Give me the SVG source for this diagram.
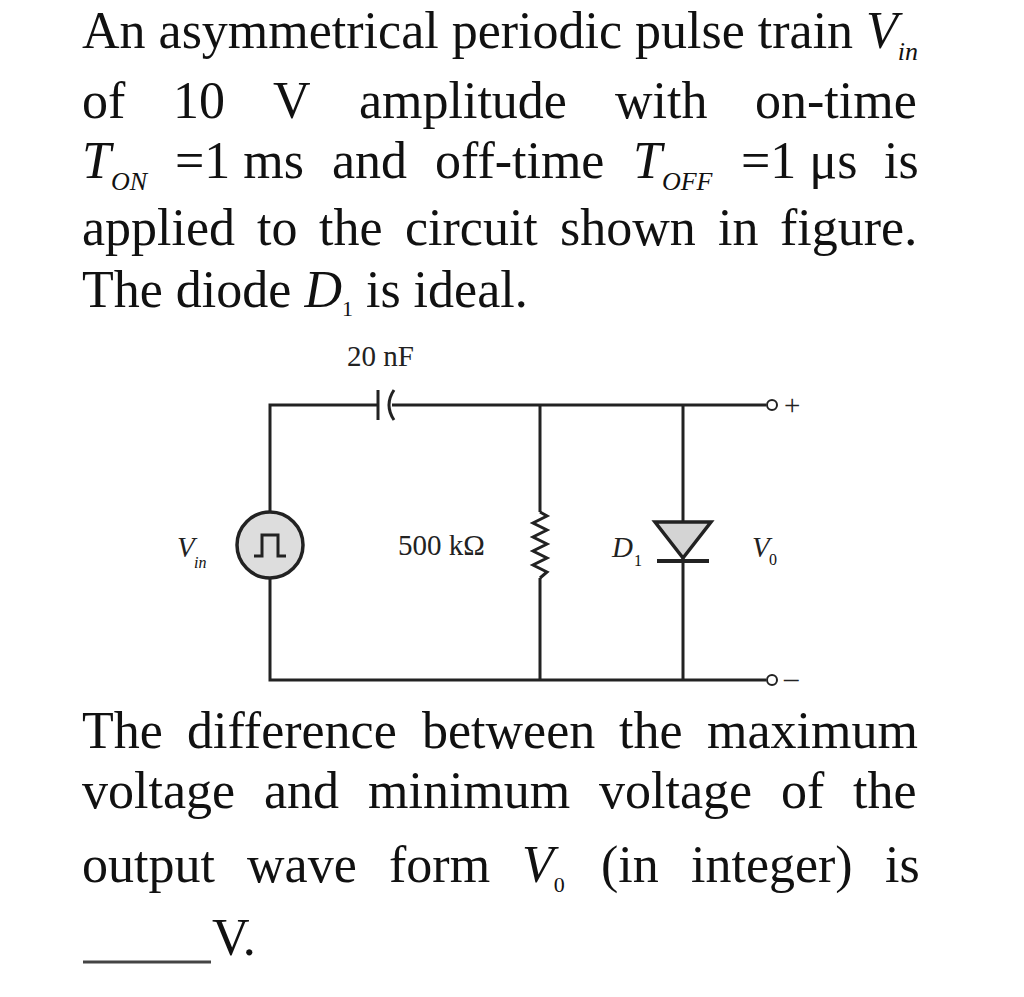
<svg xmlns="http://www.w3.org/2000/svg" width="1024" height="997" viewBox="0 0 1024 997">
<style>
text{font-family:"Liberation Serif",serif;fill:#111}
.t{font-size:52px}
.i{font-style:italic}
.s{font-size:26px;font-style:italic}
.n{font-size:22px}
.c{font-size:29px;fill:#222}
.w{stroke:#222;stroke-width:3;fill:none}
</style>
<rect width="1024" height="997" fill="#fff"/>
<g id="text">
<text class="t" x="82" y="48">An asymmetrical periodic pulse train <tspan class="i">V</tspan><tspan class="s" dy="12">in</tspan></text>

<text class="t" y="118"><tspan x="82">of</tspan><tspan x="173">10</tspan><tspan x="273">V</tspan><tspan x="359">amplitude</tspan><tspan x="615">with</tspan><tspan x="755">on-time</tspan></text>

<text class="t" y="178"><tspan x="82" class="i">T</tspan><tspan class="s" dy="12">ON</tspan><tspan x="175" dy="-12">=1 ms</tspan><tspan x="332">and</tspan><tspan x="435">off-time</tspan><tspan x="633" class="i">T</tspan><tspan class="s" dy="12">OFF</tspan><tspan x="741" dy="-12">=1 μs</tspan><tspan x="884">is</tspan></text>

<text class="t" y="245"><tspan x="82">applied</tspan><tspan x="257">to</tspan><tspan x="319">the</tspan><tspan x="405">circuit</tspan><tspan x="560">shown</tspan><tspan x="718">in</tspan><tspan x="780">figure.</tspan></text>

<text class="t" x="82" y="307">The diode <tspan class="i">D</tspan><tspan class="n" dy="9">1</tspan><tspan dy="-9"> is ideal.</tspan></text>

<text class="t" y="748"><tspan x="82">The</tspan><tspan x="187">difference</tspan><tspan x="422">between</tspan><tspan x="619">the</tspan><tspan x="707">maximum</tspan></text>

<text class="t" y="808"><tspan x="82">voltage</tspan><tspan x="264">and</tspan><tspan x="368">minimum</tspan><tspan x="599">voltage</tspan><tspan x="781">of</tspan><tspan x="853">the</tspan></text>

<text class="t" y="882"><tspan x="82">output</tspan><tspan x="247">wave</tspan><tspan x="389">form</tspan><tspan x="522" class="i">V</tspan><tspan class="n" dy="10">0</tspan><tspan x="601" dy="-10">(in</tspan><tspan x="691">integer)</tspan><tspan x="885">is</tspan></text>

<line x1="83" y1="962" x2="211" y2="962" stroke="#444" stroke-width="3"/>
<text class="t" x="212" y="955">V.</text>
</g>
<g id="connectors">
<path class="w" d="M378 405H270V512M270 578V680H766M392 405H766M540 405V512M540 578V680M683 405V680"/>
</g>
<g id="capacitor">
<line class="w" x1="378" y1="390" x2="378" y2="420"/>
<path class="w" d="M394 390Q384 405 394 420"/>
<text class="c" x="347" y="366">20 nF</text>
</g>
<g id="source">
<circle cx="270" cy="545" r="33" fill="#ddd" stroke="#222" stroke-width="3.5"/>
<path class="w" d="M254 556H262V535H278V556H286"/>
<text class="c i" x="177" y="557">V</text><text class="i" x="194" y="568" font-size="16">in</text>
</g>
<g id="resistor">
<path class="w" d="M540 512L547 516L533 523L547 530L533 537L547 544L533 551L547 558L533 565L547 572L540 578"/>
<text class="c" x="398" y="555">500 kΩ</text>
</g>
<g id="diode">
<path d="M655 522H711L683 558Z" fill="#d4d4d4" stroke="#222" stroke-width="3.5"/>
<line x1="657" y1="561" x2="709" y2="561" stroke="#222" stroke-width="4"/>
<text class="c i" x="612" y="557">D</text><text x="634" y="566" font-size="16">1</text>
</g>
<g id="terminals">
<circle cx="772" cy="405" r="5" fill="#fff" stroke="#222" stroke-width="2"/>
<circle cx="772" cy="680" r="5" fill="#fff" stroke="#222" stroke-width="2"/>
<text class="c" x="784" y="415">+</text>
<text class="c" x="784" y="688">–</text>
<text class="c i" x="752" y="557">V</text><text x="769" y="565" font-size="16">0</text>
</g>
</svg>
